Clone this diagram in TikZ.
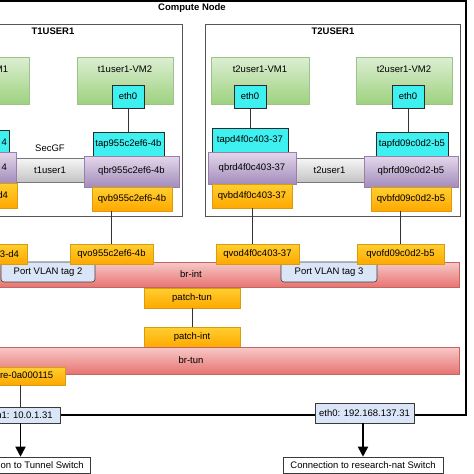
\documentclass[tikz,border=0pt]{standalone}
\usepackage{fontspec}
\setmainfont{Liberation Sans}
\usetikzlibrary{arrows.meta}

\definecolor{vmtop}{HTML}{DCEED3}
\definecolor{vmbot}{HTML}{9ED27F}
\definecolor{vmline}{HTML}{9CC38A}
\definecolor{iffill}{HTML}{3FF0F0}
\definecolor{ifline}{HTML}{2B2B2B}
\definecolor{qbrtop}{HTML}{E3D8EA}
\definecolor{qbrbot}{HTML}{A48CBC}
\definecolor{qbrline}{HTML}{9A7FAE}
\definecolor{lbtop}{HTML}{F6F6F6}
\definecolor{lbbot}{HTML}{C4C4C4}
\definecolor{lbline}{HTML}{777777}
\definecolor{porttop}{HTML}{FFCF30}
\definecolor{portbot}{HTML}{FFA800}
\definecolor{portline}{HTML}{D89C10}
\definecolor{brtop}{HTML}{F7C9C8}
\definecolor{brbot}{HTML}{E77471}
\definecolor{brline}{HTML}{C26563}
\definecolor{nicfill}{HTML}{DAE6F8}
\definecolor{nicline}{HTML}{3A3A3A}
\definecolor{grpline}{HTML}{555555}
\definecolor{wireline}{HTML}{333333}

\tikzset{
  devbox/.style={draw, inner sep=0pt, line width=0.6pt, font=\fontsize{9.5}{11}\selectfont},
  vmbox/.style={devbox, draw=vmline, top color=vmtop, bottom color=vmbot, minimum width=96pt, minimum height=47pt},
  vmlabel/.style={anchor=north, inner sep=0pt, yshift=-9pt, font=\fontsize{9.5}{11}\selectfont},
  ifbox/.style={devbox, draw=ifline, fill=iffill, minimum width=32pt, minimum height=23pt},
  tapbox/.style={devbox, draw=ifline, fill=iffill, minimum height=24pt},
  qbrbox/.style={devbox, draw=qbrline, top color=qbrtop, bottom color=qbrbot, minimum height=31pt},
  lbbox/.style={devbox, draw=lbline, top color=lbtop, bottom color=lbbot, minimum height=24pt},
  portbox/.style={devbox, draw=portline, top color=porttop, bottom color=portbot, minimum height=20pt},
  brbox/.style={devbox, draw=brline, top color=brtop, bottom color=brbot, minimum width=536pt},
  vlanbox/.style={devbox, draw=nicline, fill=nicfill, rounded corners=3pt, minimum height=20pt},
  nicbox/.style={devbox, draw=nicline, fill=nicfill},
  swbox/.style={devbox, draw=nicline, fill=white, minimum height=16pt},
  cut/.style={align=right},
  grptitle/.style={font=\bfseries\fontsize{9.5}{11}\selectfont, inner sep=0pt},
  grp/.style={draw=grpline, line width=0.8pt},
  wire/.style={draw=wireline, line width=0.8pt},
  uplink/.style={line width=1.8pt, -{Triangle[width=10pt,length=10pt]}},
}

\begin{document}
\begin{tikzpicture}[x=1pt,y=-1pt]
\useasboundingbox (0,0) rectangle (474,474);
\clip (0,0) rectangle (474,474);

% compute node and tenants
\draw[line width=1.2pt] (-82,1) rectangle (466,415);
\node[grptitle] (cntitle) at (192,8) {Compute Node};
\draw[grp] (-76,24) rectangle (182,216);
\node[grptitle] (t1title) at (53,31) {T1USER1};
\draw[grp] (205,24) rectangle (460,216);
\node[grptitle] (t2title) at (333,31) {T2USER1};

% VMs
\node[vmbox, label={[vmlabel]north:t1user1-VM1}] (vm11) at (-19,80.5) {};
\node[vmbox, label={[vmlabel]north:t1user1-VM2}] (vm12) at (125,80.5) {};
\node[vmbox, minimum width=98pt, label={[vmlabel]north:t2user1-VM1}] (vm21) at (260,80.5) {};
\node[vmbox, label={[vmlabel]north:t2user1-VM2}] (vm22) at (404,80.5) {};

\node[ifbox] (eth12) at (128,96.5) {eth0};
\node[ifbox] (eth21) at (250,96.5) {eth0};
\node[ifbox] (eth22) at (408,96.5) {eth0};

% tap devices
\node[tapbox, minimum width=71pt, minimum height=25pt, text width=67pt, cut] (tap11) at (-26.5,142.5) {4};
\node[tapbox, minimum width=71pt] (tap12) at (128.5,144) {tap955c2ef6-4b};
\node[tapbox, minimum width=76pt, minimum height=25pt] (tap21) at (250,140.5) {tapd4f0c403-37};
\node[tapbox, minimum width=72pt] (tap22) at (412,144) {tapfd09c0d2-b5};

\draw[wire] (eth12.south) -- (eth12.south |- tap12.north);
\draw[wire] (eth21.south) -- (eth21.south |- tap21.north);
\draw[wire] (eth22.south) -- (eth22.south |- tap22.north);

% security group bridges
\node (secgf) at (50,148) {\fontsize{9.5}{11}\selectfont SecGF};
\node[lbbox, minimum width=70pt] (lb1) at (50,170) {t1user1};
\node[lbbox, minimum width=71pt] (lb2) at (329.5,170) {t2user1};

\node[qbrbox, minimum width=95pt, text width=77pt, cut] (qbr11) at (-31.5,167.5) {4};
\node[qbrbox, minimum width=95pt] (qbr12) at (131.5,171.5) {qbr955c2ef6-4b};
\node[qbrbox, minimum width=88pt, minimum height=32pt] (qbr21) at (252,168) {qbrd4f0c403-37};
\node[qbrbox, minimum width=94pt] (qbr22) at (411,171.5) {qbrfd09c0d2-b5};

\node[portbox, minimum width=80pt, minimum height=25pt, text width=62pt, cut] (qvb11) at (-23,195.5) {d4};
\node[portbox, minimum width=80pt, minimum height=24pt] (qvb12) at (132,199) {qvb955c2ef6-4b};
\node[portbox, minimum width=80pt, minimum height=24pt] (qvb21) at (252,196) {qvbd4f0c403-37};
\node[portbox, minimum width=80pt, minimum height=24pt] (qvb22) at (411,199) {qvbfd09c0d2-b5};

% integration bridge
\node[brbox, minimum height=25pt] (brint) at (191,274.5) {br-int};
\node[vlanbox, minimum width=94pt] (vlan2) at (48,272) {Port VLAN tag 2};
\node[vlanbox, minimum width=96pt] (vlan3) at (329,272) {Port VLAN tag 3};

\node[portbox, minimum width=83pt, text width=67pt, cut] (qvo11) at (-14.5,254) {3-d4};
\node[portbox, minimum width=83pt] (qvo12) at (111.5,254) {qvo955c2ef6-4b};
\node[portbox, minimum width=83pt] (qvo21) at (257.5,254) {qvod4f0c403-37};
\node[portbox, minimum width=87pt] (qvo22) at (400.5,254) {qvofd09c0d2-b5};

\draw[wire] (qvo12.north) -- (qvo12.north |- qvb12.south);
\draw[wire] (qvb21.south) -- (qvb21.south |- qvo21.north);
\draw[wire] (qvo22.north) -- (qvo22.north |- qvb22.south);

% tunnel bridge
\node[portbox, minimum width=96pt] (ptun) at (192,298) {patch-tun};
\node[portbox, minimum width=96pt] (pint) at (192,337) {patch-int};
\draw[wire] (ptun.south) -- (pint.north);

\node[brbox, minimum height=27pt] (brtun) at (191,360.5) {br-tun};
\node[portbox, minimum width=82pt, minimum height=18pt] (gre) at (24,376) {gre-0a000115};

% physical nics
\node[nicbox, minimum width=79pt, minimum height=16pt] (eth1) at (20.5,415) {eth1: 10.0.1.31};
\node[nicbox, minimum width=99pt, minimum height=20pt] (eth0) at (364.5,413) {eth0: 192.168.137.31};
\draw[wire] (eth1.north) -- (eth1.north |- gre.south);

\node[swbox, minimum width=133pt] (tunsw) at (23.5,465) {Connection to Tunnel Switch};
\node[swbox, minimum width=160pt] (natsw) at (363,465) {Connection to research-nat Switch};

\draw[uplink] (eth1.south) -- (eth1.south |- tunsw.north);
\draw[uplink] (eth0.south -| natsw.north) -- (natsw.north);
\end{tikzpicture}
\end{document}
